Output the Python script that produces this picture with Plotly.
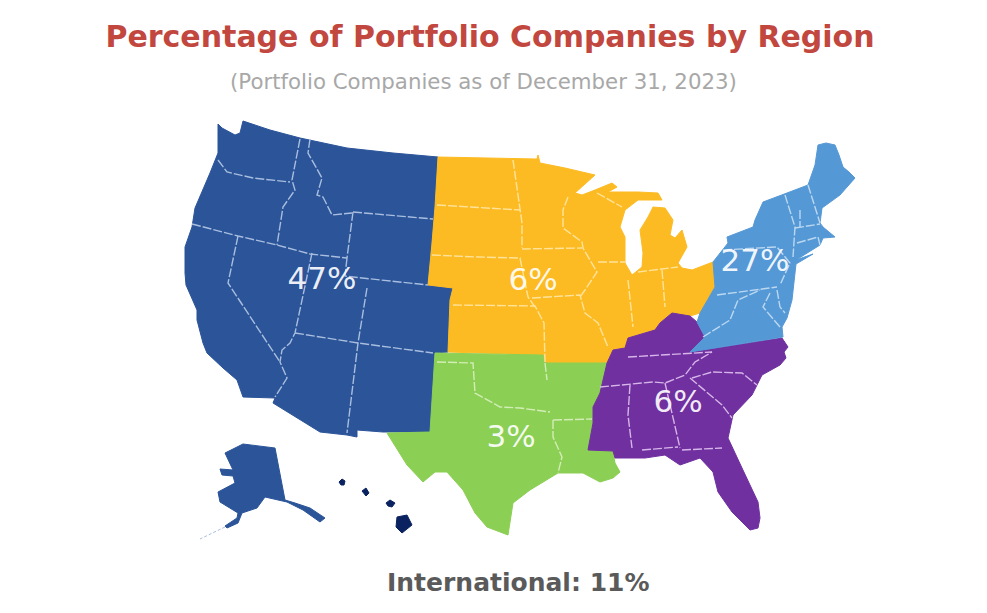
import plotly.graph_objects as go

TITLE = "Percentage of Portfolio Companies by Region"
SUBTITLE = "(Portfolio Companies as of December 31, 2023)"
FOOTER = "International: 11%"
region_names = ["West", "Midwest", "South Central", "Southeast", "Northeast"]
region_shares = ["47%", "6%", "3%", "6%", "27%"]
label_x = [322, 533, 511, 678, 755]
label_y = [281, 282, 439, 404, 263]
region_colors = ["#2B5499", "#FDBB23", "#8CCF55", "#7030A0", "#5598D6"]
border_colors = ["#A9BEDF", "#FFE39A", "#D2EDB6", "#D6B5E8", "#BBD8F1"]

west_outline = [(218,124),(222,128),(235,135),(240,133),(243,121),(270,130),(300,138),(347,148),(393,153),(438,157),
    (435,207),(432,243),(428,285),(453,288),(450,300),(448,352),(435,353),(430,432),(383,432),(357,430),(357,437),
    (347,435),(320,432),(273,403),(275,398),(243,397),(237,380),(223,368),(207,353),(203,343),(197,320),(197,310),
    (186,285),(185,273),(185,247),(192,227),(195,208),(210,173),(218,153)]
alaska_outline = [(225,453),(243,444),(275,448),(285,500),(295,503),(310,508),(325,518),(320,522),(303,510),(287,502),
    (265,497),(257,508),(242,513),(238,523),(227,528),(225,526),(237,518),(238,513),(220,502),(218,492),(235,483),
    (233,476),(222,475),(220,469),(233,470)]
kauai_outline = [(339,482),(342,479),(345,481),(344,485),(341,485)]
oahu_outline = [(362,491),(366,488),(369,493),(366,496)]
maui_outline = [(386,503),(390,500),(395,503),(392,507),(388,506)]
big_island_outline = [(397,517),(407,515),(412,525),(402,533),(396,527)]
midwest_outline = [(438,157),(537,159),(538,155),(540,163),(565,168),(595,175),(575,193),(582,195),(595,190),(612,183),
    (617,187),(608,192),(638,192),(658,193),(662,200),(638,200),(625,210),(620,227),(625,237),(625,263),(632,275),
    (642,267),(643,253),(640,230),(648,217),(653,207),(665,208),(673,220),(670,235),(675,238),(682,230),(687,247),
    (678,263),(682,268),(692,270),(712,262),(713,262),(715,287),(700,313),(690,316),(672,313),(660,323),(655,330),
    (628,338),(625,348),(613,350),(607,363),(545,363),(543,355),(448,352),(450,300),(453,288),(428,285),(432,243),(435,207)]
south_central_outline = [(435,353),(543,355),(545,363),(607,363),(600,393),(593,407),(593,423),(588,450),(613,451),
    (615,463),(620,472),(613,478),(600,482),(583,473),(558,473),(530,490),(513,503),(508,535),(487,527),(475,513),
    (463,490),(447,472),(435,472),(423,482),(407,465),(387,433),(430,432)]
southeast_outline = [(625,348),(628,338),(655,330),(660,323),(672,313),(690,316),(697,322),(705,337),(690,352),(782,338),
    (788,347),(784,352),(786,358),(780,365),(762,375),(752,395),(733,415),(728,438),(742,468),(758,502),(760,518),(758,528),
    (750,530),(732,512),(718,492),(713,472),(700,458),(680,465),(665,455),(645,458),(615,458),(613,451),(588,450),
    (593,423),(593,407),(600,393),(607,363),(613,350)]
northeast_outline = [(690,352),(783,337),(782,327),(787,318),(792,300),(795,270),(796,264),(813,254),(796,260),(820,245),
    (823,238),(835,237),(823,227),(820,223),(822,208),(840,195),(855,178),(849,172),(843,167),(839,155),(835,145),
    (826,143),(818,145),(815,165),(808,185),(787,193),(763,202),(755,220),(753,227),(727,237),(728,243),(713,262),
    (715,287),(700,313),(697,322),(705,337)]

west_borders = [
    [(218,160),(227,172),(253,178),(290,182)], [(300,139),(292,180),(295,190),(283,207),(277,245)],
    [(310,139),(308,153),(322,178),(317,195),(323,197),(332,215),(352,213)], [(353,212),(347,258)],
    [(353,212),(433,219)], [(192,224),(238,236),(277,245),(310,254),(347,258)],
    [(238,236),(228,283),(280,362)], [(312,253),(295,333),(290,343),(282,350),(280,362),(287,378),(275,397)],
    [(347,258),(345,276),(362,278),(428,285)], [(367,288),(358,343),(347,433)], [(295,333),(358,343),(433,353)],
]
midwest_borders = [
    [(513,160),(522,223),(522,248)], [(437,205),(520,210)], [(432,255),(478,257),(520,258),(528,297),(535,307)],
    [(453,305),(535,306),(544,323),(545,362)], [(522,249),(582,248)],
    [(568,197),(563,210),(563,228),(582,242),(583,248),(597,272),(585,290),(580,297)],
    [(532,298),(580,295),(585,313),(598,323),(608,347)], [(598,262),(625,262)], [(597,193),(622,207)],
    [(628,280),(633,327)], [(662,270),(665,307)], [(638,272),(678,267)],
]
south_central_borders = [
    [(437,362),(473,363),(475,393),(500,407),(520,408),(550,412)], [(545,363),(547,380)],
    [(553,420),(592,419)], [(553,420),(553,437),(562,457),(558,473)],
]
southeast_borders = [
    [(628,357),(660,355),(712,352)], [(600,387),(653,382),(665,383),(685,375),(695,362),(712,352)],
    [(630,385),(628,415),(632,448)], [(665,383),(672,412),(680,448)], [(642,450),(678,447)], [(682,450),(722,448)],
    [(690,378),(722,405),(732,418)], [(692,378),(712,372),(742,373),(757,385)],
]
northeast_borders = [
    [(703,337),(730,320),(738,300),(760,290)], [(717,295),(777,287)], [(723,250),(777,247),(790,263),(780,285)],
    [(785,195),(795,227),(793,257)], [(808,185),(820,223)], [(800,210),(800,227)], [(795,228),(820,224)],
    [(797,243),(818,237),(820,245)], [(770,293),(763,307),(780,327)], [(777,290),(780,307),(785,313)],
]
aleutian_x = [225, 212, 200]
aleutian_y = [527, 533, 539]

PAGE_MARGIN = 8  # the page body's margin shifts the plot; ranges compensate


def flatten(lines, index):
    values = []
    for line in lines:
        values += [p[index] for p in line] + [None]
    return values


def polygon(points, color):
    xs = [p[0] for p in points] + [points[0][0]]
    ys = [p[1] for p in points] + [points[0][1]]
    return go.Scatter(x=xs, y=ys, mode="lines", fill="toself", fillcolor=color,
                      line=dict(color=color, width=1), hoverinfo="skip", showlegend=False)


fig = go.Figure()
outlines = [west_outline, midwest_outline, south_central_outline, southeast_outline, northeast_outline]
all_borders = [west_borders, midwest_borders, south_central_borders, southeast_borders, northeast_borders]
for outline, color in zip(outlines, region_colors):
    fig.add_trace(polygon(outline, color))
fig.add_trace(polygon(alaska_outline, region_colors[0]))
fig.add_trace(go.Scatter(x=aleutian_x, y=aleutian_y, mode="lines", line=dict(color="#A9BEDF", width=1, dash="3px,2px"),
                         hoverinfo="skip", showlegend=False))
for island in [kauai_outline, oahu_outline, maui_outline, big_island_outline]:
    fig.add_trace(polygon(island, "#0B2260"))
for borders, color in zip(all_borders, border_colors):
    fig.add_trace(go.Scatter(x=flatten(borders, 0), y=flatten(borders, 1), mode="lines",
                             line=dict(color=color, width=1.4, dash="9px,2px"),
                             hoverinfo="skip", showlegend=False))
fig.add_trace(go.Scatter(x=label_x, y=label_y, mode="text", text=region_shares, customdata=region_names,
                         textposition="middle center",
                         textfont=dict(family="DejaVu Sans", size=31, color="rgba(255,255,255,0.92)"),
                         hoverinfo="skip", showlegend=False))
fig.update_layout(
    width=987, height=613, margin=dict(l=0, r=0, t=0, b=0), paper_bgcolor="white", plot_bgcolor="white",
    xaxis=dict(range=[PAGE_MARGIN, 987 + PAGE_MARGIN], visible=False, fixedrange=True),
    yaxis=dict(range=[613 + PAGE_MARGIN, PAGE_MARGIN], visible=False, fixedrange=True),
    title=dict(text=TITLE, x=(490 - PAGE_MARGIN) / 987, xanchor="center", y=1 - (36 - PAGE_MARGIN) / 613, yanchor="middle",
               font=dict(family="DejaVu Sans", size=30, color="#C1473F", weight="bold")),
    annotations=[
        dict(text=SUBTITLE, x=483.5, y=81, xref="x", yref="y", showarrow=False,
             font=dict(family="DejaVu Sans", size=21.3, color="#A8A8A8")),
        dict(text="<b>%s</b>" % FOOTER, x=518, y=582, xref="x", yref="y", showarrow=False,
             font=dict(family="DejaVu Sans", size=25, color="#5A5A5A")),
    ],
)
fig.write_html("out.html")
